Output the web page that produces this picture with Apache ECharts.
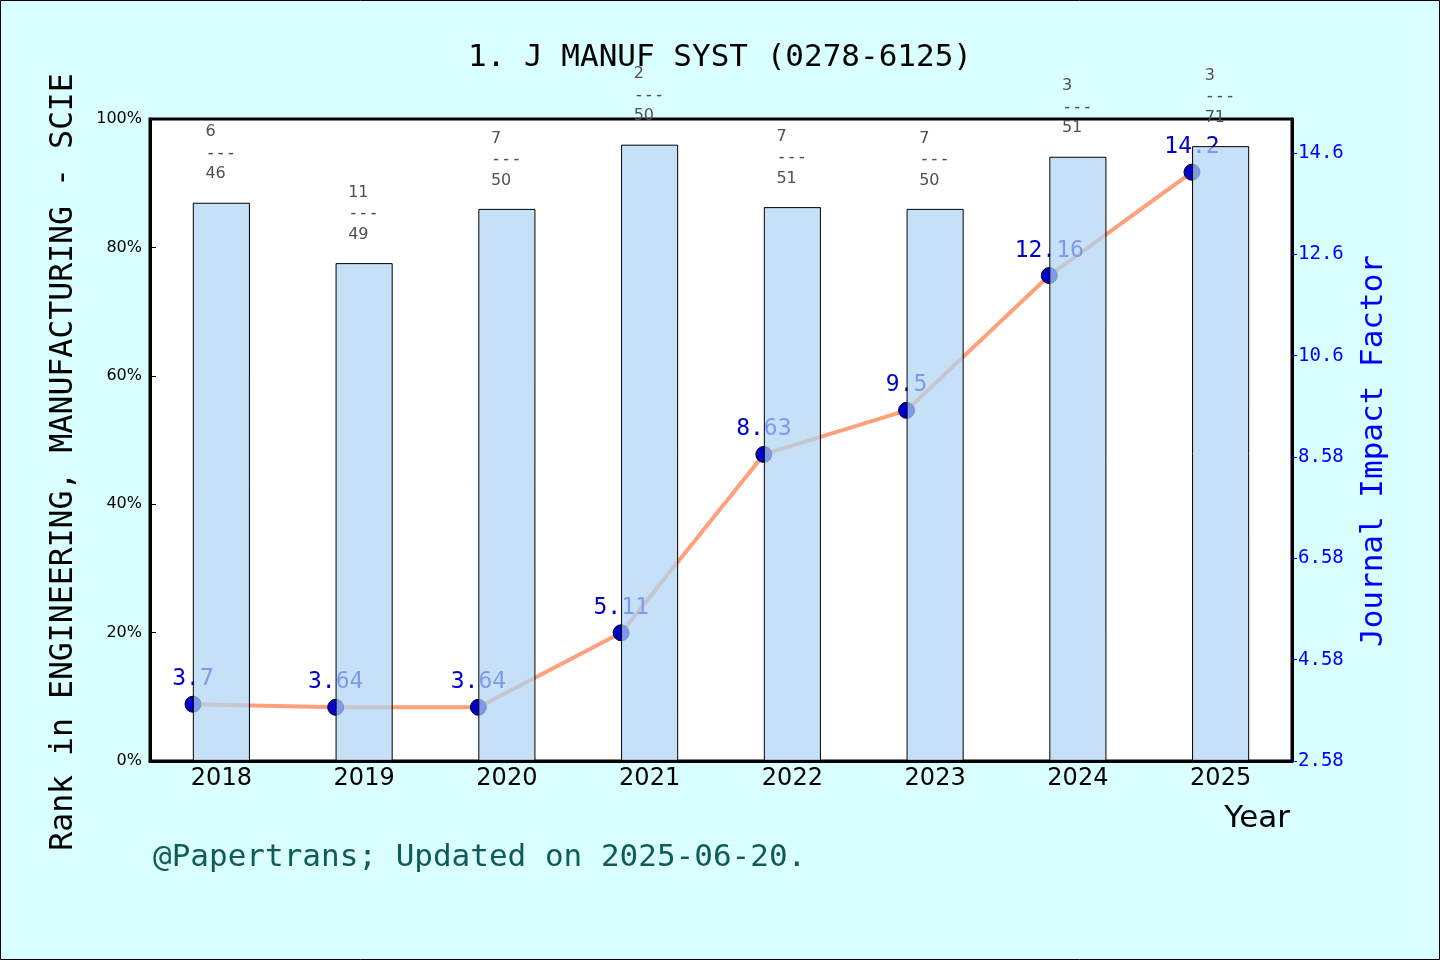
<!DOCTYPE html>
<html>
<head>
<meta charset="utf-8">
<script src="https://cdn.jsdelivr.net/npm/echarts@6/dist/echarts.min.js"></script>
<style>
  html, body { margin: 0; padding: 0; }
  #main { width: 1440px; height: 960px; }
</style>
</head>
<body>
<div id="main"></div>
<script>
// data
var years = ['2018', '2019', '2020', '2021', '2022', '2023', '2024', '2025'];
var ranks = [6, 11, 7, 2, 7, 7, 3, 3];
var totals = [46, 49, 50, 50, 51, 50, 51, 71];
var impactFactor = [3.7, 3.64, 3.64, 5.11, 8.63, 9.5, 12.16, 14.2];
var ifMin = 2.58, ifMax = 15.25;

var monoFont = 'DejaVu Sans Mono';
var sansFont = 'DejaVu Sans';

// rank percentile = share of journals behind this one
var rankPct = ranks.map(function (r, i) {
  return (totals[i] - r) / totals[i] * 100;
});

var myChart = echarts.init(document.getElementById('main'));

var option = {
  backgroundColor: '#D9FFFF',
  title: [{
    text: '1. J MANUF SYST (0278-6125)',
    left: 'center',
    top: 37,
    textStyle: { fontFamily: monoFont, fontSize: 31, fontWeight: 'normal', color: '#000' }
  }, {
    text: '@Papertrans; Updated on 2025-06-20.',
    left: 148,
    top: 837,
    textStyle: { fontFamily: monoFont, fontSize: 31, fontWeight: 'normal', color: '#0F5C57' }
  }],
  graphic: [{
    type: 'rect',
    shape: { x: 0.5, y: 0.5, width: 1439, height: 959 },
    style: { fill: 'none', stroke: '#000', lineWidth: 1 },
    silent: true
  }],
  grid: [
    { left: 150, right: 148, top: 119, bottom: 199, show: true,
      backgroundColor: '#fff', borderColor: '#000', borderWidth: 3 },
    // line grid: first and last point sit at the left edge of their bars
    { left: 193, right: 248, top: 119, bottom: 199, show: false }
  ],
  xAxis: [{
    type: 'category',
    gridIndex: 0,
    data: years,
    name: 'Year',
    nameLocation: 'end',
    nameGap: -2,
    nameTextStyle: { fontFamily: sansFont, fontSize: 31, color: '#000',
      align: 'right', verticalAlign: 'top', padding: [42, 0, 0, 0] },
    axisLine: { lineStyle: { color: '#000', width: 3 } },
    axisTick: { inside: true, length: 6, lineStyle: { color: '#000', width: 1 } },
    axisLabel: { fontFamily: sansFont, fontSize: 24, color: '#000', margin: 6 }
  }, {
    type: 'category',
    gridIndex: 1,
    data: years,
    boundaryGap: false,
    show: false
  }],
  yAxis: [{
    type: 'value',
    gridIndex: 0,
    min: 0,
    max: 100,
    interval: 20,
    name: 'Rank in ENGINEERING, MANUFACTURING - SCIE',
    nameLocation: 'middle',
    nameRotate: 90,
    nameGap: 70,
    nameTextStyle: { fontFamily: monoFont, fontSize: 31.5, color: '#000', padding: [0, 44, 0, 0] },
    axisLine: { show: true, lineStyle: { color: '#000', width: 3 } },
    axisTick: { show: true, inside: true, length: 6, lineStyle: { color: '#000' } },
    axisLabel: { formatter: '{value}%', fontFamily: sansFont, fontSize: 16, color: '#000', margin: 8 },
    splitLine: { show: false }
  }, {
    type: 'value',
    gridIndex: 0,
    position: 'right',
    min: ifMin,
    max: ifMax,
    interval: 2,
    name: 'Journal Impact Factor',
    nameLocation: 'middle',
    nameRotate: 90,
    nameGap: 66,
    nameTextStyle: { fontFamily: monoFont, fontSize: 31, color: '#0000FF', padding: [0, 22, 0, 0] },
    axisLine: { show: true, lineStyle: { color: '#000', width: 3 } },
    axisTick: { show: true, length: 5, lineStyle: { color: '#0000FF' } },
    axisLabel: {
      fontFamily: monoFont, fontSize: 19, color: '#0000FF', margin: 6, showMaxLabel: false,
      formatter: function (v) { return v > 15 ? '' : String(Number(v.toPrecision(3))); }
    },
    splitLine: { show: false }
  }, {
    type: 'value',
    gridIndex: 1,
    min: ifMin,
    max: ifMax,
    show: false
  }],
  series: [{
    name: 'Impact Factor',
    type: 'line',
    xAxisIndex: 1,
    yAxisIndex: 2,
    z: 2,
    data: impactFactor,
    symbol: 'circle',
    symbolSize: 16,
    lineStyle: { color: '#FFA07A', width: 4 },
    itemStyle: { color: '#0000CD', borderColor: '#000', borderWidth: 1 },
    label: {
      show: true,
      position: 'top',
      distance: 5,
      fontFamily: monoFont,
      fontSize: 23,
      color: '#0000CD'
    }
  }, {
    name: 'Rank',
    type: 'bar',
    xAxisIndex: 0,
    yAxisIndex: 0,
    z: 3,
    barWidth: '40%',
    data: rankPct,
    itemStyle: { color: 'rgba(174,212,244,0.72)', borderColor: '#000', borderWidth: 1 },
    label: {
      show: true,
      position: 'top',
      distance: 18,
      align: 'left',
      offset: [-16, 0],
      formatter: function (p) {
        return '{n|' + ranks[p.dataIndex] + '}\n{d|---}\n{n|' + totals[p.dataIndex] + '}';
      },
      rich: {
        n: { fontFamily: sansFont, fontSize: 16, color: '#505050', lineHeight: 21 },
        d: { fontFamily: monoFont, fontSize: 17, color: '#505050', lineHeight: 21 }
      }
    }
  }]
};

myChart.setOption(option);
</script>
</body>
</html>
